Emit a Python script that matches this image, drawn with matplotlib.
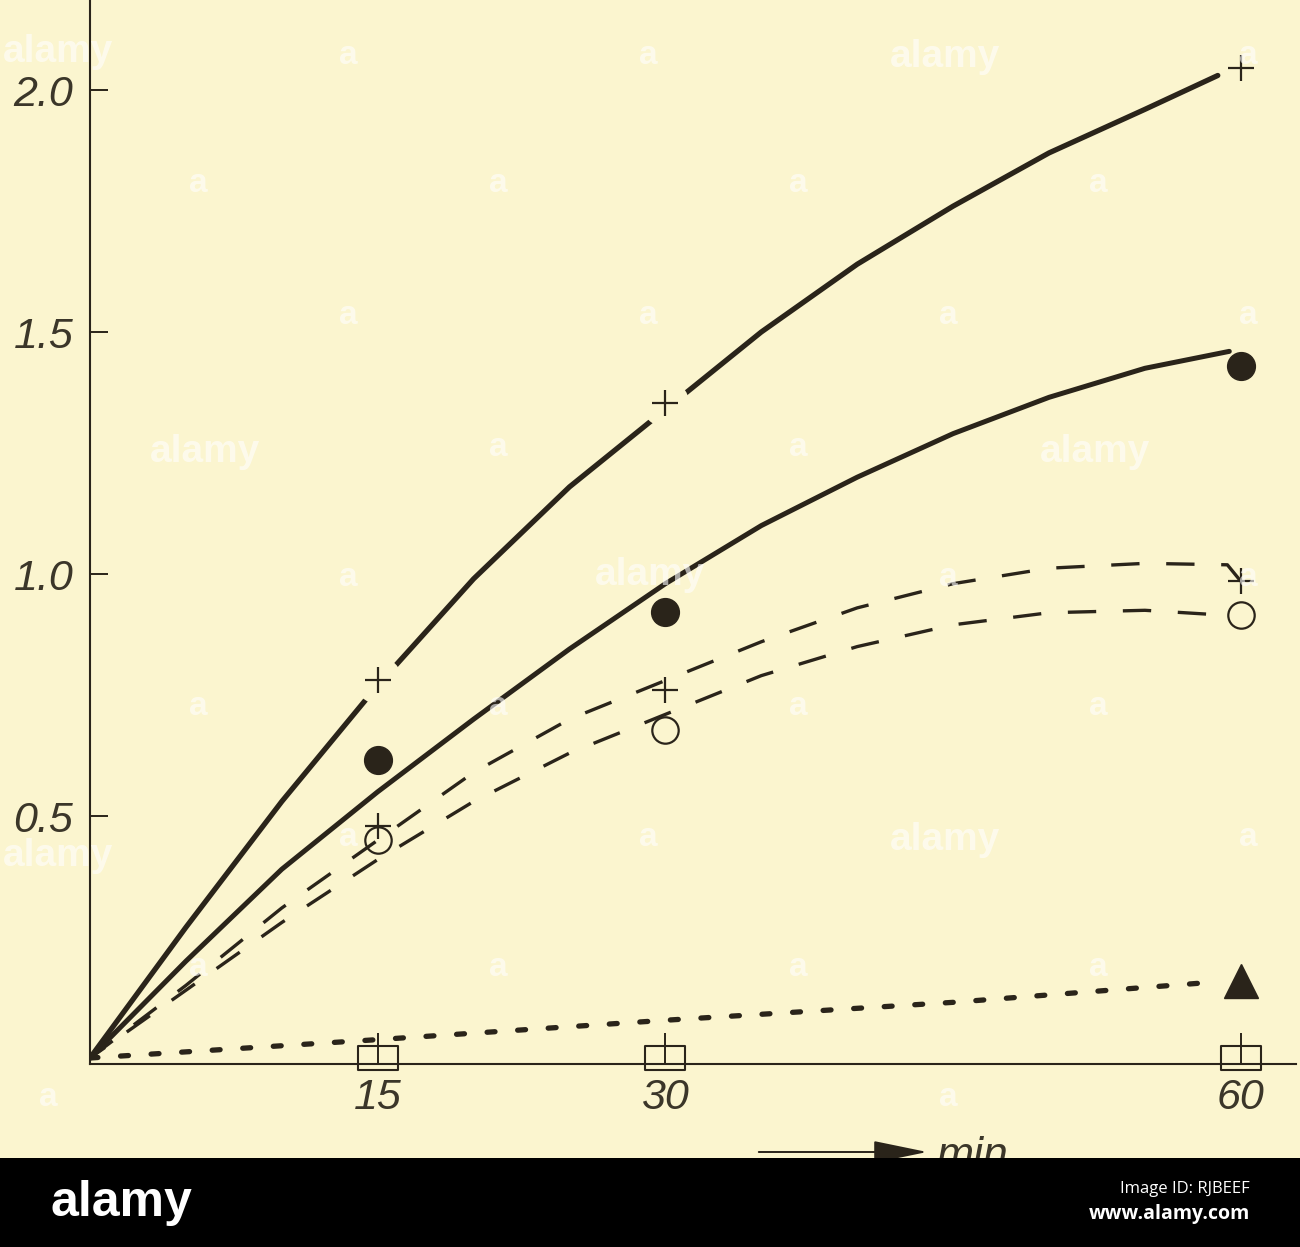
import matplotlib
matplotlib.use("Agg")
import matplotlib.pyplot as plt
from matplotlib.path import Path
from matplotlib.patches import Rectangle, FancyArrowPatch

# ---------------- data ----------------
marker_minutes = [15, 30, 60]
plus_solid = [0.781, 1.353, 2.045]      # "+" on upper solid curve
dot_solid = [0.616, 0.921, 1.43]        # filled circles
plus_dashed = [0.479, 0.76, 0.985]      # "+" on dashed curve
ring_dashed = [0.45, 0.678, 0.915]      # open circles
square_values = [0.0, 0.0, 0.0]         # open boxes on the axis
triangle_minutes = [60]
triangle_values = [0.16]

curve_a_min = [0, 5, 10, 15, 20, 25, 30, 35, 40, 45, 50, 55, 58.8]
curve_a = [0, 0.27, 0.53, 0.77, 0.99, 1.18, 1.34, 1.50, 1.64, 1.76, 1.87, 1.96, 2.03]
curve_b_min = [0, 5, 10, 15, 20, 25, 30, 35, 40, 45, 50, 55, 59.4]
curve_b = [0, 0.20, 0.39, 0.55, 0.70, 0.845, 0.98, 1.10, 1.20, 1.29, 1.365, 1.425, 1.46]
curve_c_min = [0, 5, 10, 15, 20, 25, 30, 35, 40, 45, 50, 55, 59.3, 60]
curve_c = [0, 0.15, 0.31, 0.45, 0.59, 0.70, 0.78, 0.86, 0.93, 0.98, 1.012, 1.022, 1.019, 0.985]
curve_d_min = [0, 5, 10, 15, 20, 25, 30, 35, 40, 45, 50, 55, 59.1]
curve_d = [0, 0.14, 0.28, 0.41, 0.53, 0.63, 0.71, 0.79, 0.85, 0.895, 0.92, 0.925, 0.915]
curve_e_min = [0, 15, 30, 45, 58]
curve_e = [0, 0.038, 0.078, 0.115, 0.155]

yticks = [0.5, 1.0, 1.5, 2.0]
ytick_labels = ["0.5", "1.0", "1.5", "2.0"]
xticks = [15, 30, 60]
xtick_labels = ["15", "30", "60"]

# ---------------- style ----------------
W, H = 1300, 1247
BG = "#fbf5cf"
INK = "#2a241a"
LABEL = "#3b3629"

def fx(px):
    return px / W

def fy(py):
    return 1 - py / H

fig = plt.figure(figsize=(W / 100, H / 100), dpi=100, facecolor=BG)

x0_px, x1_px = 90, 1296
ytop_px, ybot_px = 0, 1064
zero_px = 1058
px_per_min = 19.18
px_per_unit = 484.0

ax = fig.add_axes([fx(x0_px), fy(ybot_px), (x1_px - x0_px) / W, (ybot_px - ytop_px) / H])
ax.set_facecolor("none")
ax.set_xlim(0, (x1_px - x0_px) / px_per_min)
ax.set_ylim(-(ybot_px - zero_px) / px_per_unit, zero_px / px_per_unit)

for s in ["top", "right"]:
    ax.spines[s].set_visible(False)
for s in ["left", "bottom"]:
    ax.spines[s].set_color(INK)
    ax.spines[s].set_linewidth(1.5)

tick_font = dict(family=["Liberation Sans", "DejaVu Sans"], style="italic", size=31, color=LABEL)
ax.set_yticks(yticks)
ax.set_yticklabels(ytick_labels, fontdict=tick_font)
ax.set_xticks(xticks)
ax.set_xticklabels(xtick_labels, fontdict=tick_font)
ax.tick_params(axis="y", direction="in", length=13, width=1.4, color=INK, pad=12)
ax.tick_params(axis="x", direction="in", length=22, width=1.4, color=INK, pad=10)

# curves
ax.plot(curve_a_min, curve_a, color=INK, lw=3.8, solid_capstyle="round", zorder=2)
ax.plot(curve_b_min, curve_b, color=INK, lw=3.6, solid_capstyle="round", zorder=2)
ax.plot(curve_c_min, curve_c, color=INK, lw=2.4, linestyle=(0, (8.5, 8)), zorder=2)
ax.plot(curve_d_min, curve_d, color=INK, lw=2.4, linestyle=(3, (8.5, 8)), zorder=2)
ax.plot(curve_e_min, curve_e, color=INK, lw=3.8, linestyle=(0, (1.5, 4.3)),
        dash_capstyle="round", zorder=2)

# gaps of the upper solid curve around its "+" marks
ax.plot(marker_minutes[:2], plus_solid[:2], "o", ms=34, mfc=BG, mec="none", zorder=3)

# markers
ax.plot(marker_minutes, plus_solid, "+", ms=19, mew=1.6, color=INK, zorder=4, clip_on=False)
ax.plot(marker_minutes, dot_solid, "o", ms=20, mfc=INK, mec=INK, zorder=4, clip_on=False)
ax.plot(marker_minutes, plus_dashed, "+", ms=19, mew=1.6, color=INK, zorder=4, clip_on=False)
ax.plot(marker_minutes, ring_dashed, "o", ms=19, mfc="none", mec=INK, mew=1.6, zorder=4,
        clip_on=False)
ax.plot(triangle_minutes, triangle_values, "^", ms=24, color=INK, zorder=4, clip_on=False)
box = Path([(-1, -0.62), (1, -0.62), (1, 0.62), (-1, 0.62), (-1, -0.62)],
           [Path.MOVETO, Path.LINETO, Path.LINETO, Path.LINETO, Path.CLOSEPOLY])
ax.plot(marker_minutes, square_values, linestyle="none", marker=box, ms=29, mfc="none",
        mec=INK, mew=1.5, zorder=4, clip_on=False)

# axis caption with arrow (its lower part is hidden by the band, as in the scan)
fig.text(fx(936), fy(1168), "min", family=["Liberation Sans", "DejaVu Sans"], style="italic",
         size=32, color=LABEL, ha="left", va="baseline", zorder=1)
fig.add_artist(FancyArrowPatch(
    (fx(756), fy(1152)), (fx(930), fy(1152)), transform=fig.transFigure,
    arrowstyle="-|>,head_length=1.7,head_width=0.35", mutation_scale=20,
    color=INK, lw=1.4, zorder=1))

# watermarks
wm_font = dict(family=["Liberation Sans Narrow", "Liberation Sans", "DejaVu Sans"],
               weight="bold", color="white", alpha=0.6, ha="center", va="center", zorder=8)
alamy_spots = [(58, 52), (945, 57), (205, 452), (1095, 452), (650, 575), (58, 856), (945, 840)]
for (x, y) in alamy_spots:
    fig.text(fx(x), fy(y), "alamy", size=28, **wm_font)
a_rows_a = [55, 315, 577, 837, 1097]
a_cols_a = [48, 348, 648, 948, 1248]
a_rows_b = [183, 447, 707, 967]
a_cols_b = [198, 498, 798, 1098]
label_spots = [(45, 90), (45, 332), (45, 575), (45, 816), (378, 1095), (665, 1095), (1240, 1095)]

def blocked(x, y):
    near_logo = any(abs(x - px) < 90 and abs(y - py) < 40 for px, py in alamy_spots)
    near_label = any(abs(x - px) < 50 and abs(y - py) < 35 for px, py in label_spots)
    return near_logo or near_label

for rows, cols in [(a_rows_a, a_cols_a), (a_rows_b, a_cols_b)]:
    for y in rows:
        for x in cols:
            if not blocked(x, y):
                fig.text(fx(x), fy(y), "a", size=24, **wm_font)

# bottom stock-photo band
fig.add_artist(Rectangle((0, 0), 1, (H - 1158) / H, transform=fig.transFigure,
                         facecolor="black", edgecolor="none", zorder=10))
fig.text(fx(50), fy(1203), "alamy", family=["Liberation Sans Narrow", "Liberation Sans", "DejaVu Sans"],
         weight="bold", size=36, color="white", ha="left", va="center", zorder=11)
fig.text(fx(1250), fy(1189), "Image ID: RJBEEF", family=["Open Sans", "DejaVu Sans"],
         size=12, color="white", ha="right", va="center", zorder=11)
fig.text(fx(1250), fy(1214), "www.alamy.com", family=["Open Sans", "DejaVu Sans"],
         weight="bold", size=14, color="white", ha="right", va="center", zorder=11)

fig.savefig("out.png", dpi=100, facecolor=BG)
